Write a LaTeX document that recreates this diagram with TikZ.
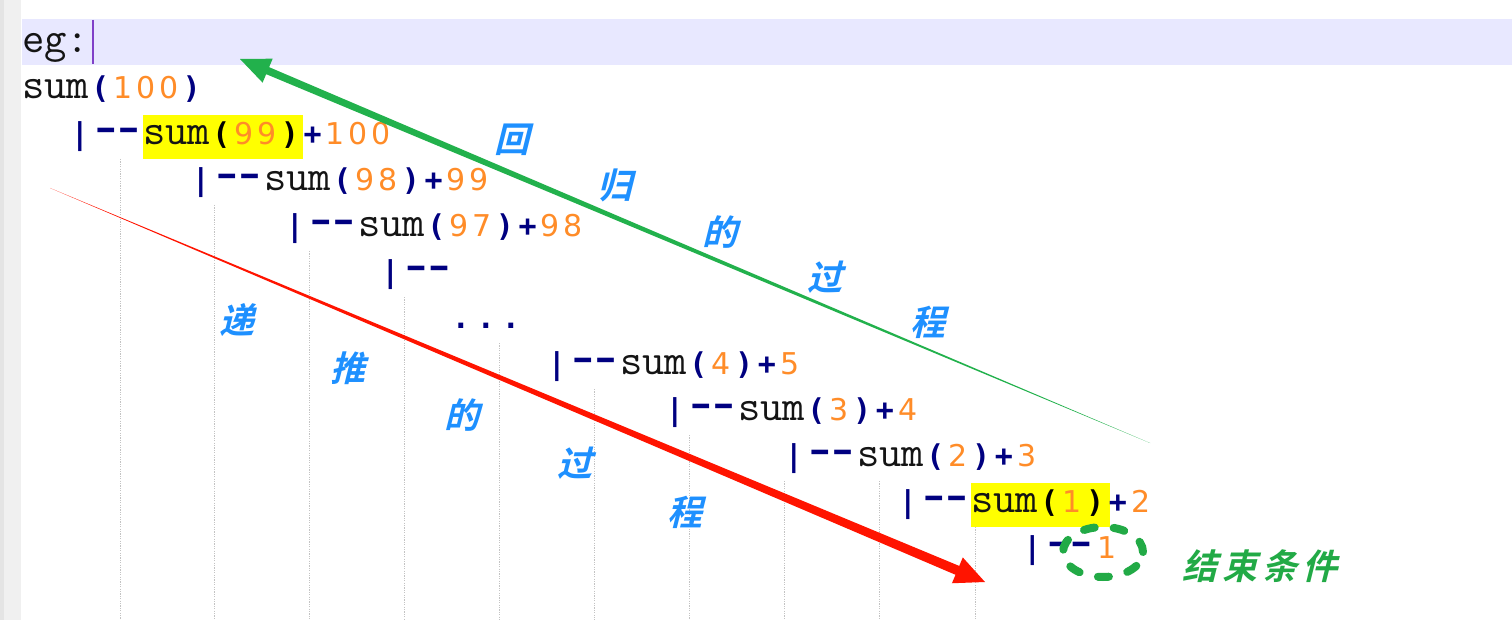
\documentclass[tikz,border=0pt]{standalone}
\usepackage{fontspec}
\usepackage{graphicx}
\usetikzlibrary{calc,shapes.geometric}
\newfontfamily\opf{DejaVu Sans Mono}[UprightFont={* Bold}]
\newfontfamily\numf{DejaVu Sans}
\newfontfamily\cjkf{Noto Sans CJK SC}[UprightFont={* Bold},FakeSlant=0.25]
\definecolor{navy}{RGB}{0,0,128}
\definecolor{numc}{RGB}{255,140,40}
\definecolor{txtc}{RGB}{20,20,20}
\definecolor{bandc}{RGB}{232,232,255}
\definecolor{hly}{RGB}{255,255,0}
\definecolor{arrgreen}{RGB}{34,177,76}
\definecolor{arrred}{RGB}{255,20,0}
\definecolor{cjkblue}{RGB}{30,144,255}
\definecolor{endgreen}{RGB}{34,170,70}
\definecolor{cursorc}{RGB}{128,64,200}
\definecolor{gutterc}{RGB}{240,240,240}
\definecolor{gutterd}{RGB}{228,228,228}
\definecolor{guidec}{RGB}{195,195,195}
\newlength\cw \setlength\cw{22.8pt}
\newcommand\opsz{\fontsize{30}{32}\selectfont}
\newcommand\ttsz{\fontsize{43.4}{45}\selectfont}
\newcommand\tx[1]{{\ttfamily\ttsz\color{txtc}#1}}
\newcommand\op[1]{\makebox[\cw]{\opf\opsz\color{navy}#1}}
\newcommand\opk[1]{\makebox[\cw]{\opf\opsz\color{black}#1}}
\newcommand\pp{\makebox[\cw]{\hspace{-12pt}\opf\opsz\color{navy}|}}
\newcommand\dd{\makebox[\cw]{\hspace{-6pt}\makebox[0pt]{\opf\opsz\color{navy}\raisebox{5pt}{\scalebox{1.8}[1.05]{-}}}}}
\newcommand\nm[1]{\makebox[\cw]{\numf\opsz\color{numc}#1}}
\def\nms#1{\nmsloop#1\relax}
\def\nmsloop#1{\ifx\relax#1\else\nm{#1}\expandafter\nmsloop\fi}
\newcommand\callrow[2]{\pp\dd\dd\tx{sum}\op{(}\nms{#1}\op{)}\op{+}\nms{#2}}
\newcommand\hlrow[2]{\pp\dd\dd\tx{sum}\opk{(}\nms{#1}\opk{)}\op{+}\nms{#2}}
\newcommand\dotc{\makebox[25pt]{\opf\opsz\color{navy}.}}
\tikzset{
  codeline/.style={anchor=base west, inner sep=0pt, outer sep=0pt},
  guide/.style={guidec, line width=0.8pt, dash pattern=on 1.2pt off 1.2pt},
  hlbox/.style={fill=hly, draw=none},
  cjkword/.style={text=cjkblue, font=\cjkf\fontsize{35}{37}\selectfont, inner sep=0pt},
}
\begin{document}
\begin{tikzpicture}[x=1pt,y=-1pt]
\useasboundingbox (0,0) rectangle (1512,620);
\fill[white] (0,0) rectangle (1512,620);
% gutter
\fill[gutterc] (0,0) rectangle (21,620);
\fill[gutterd] (0,0) rectangle (4,620);
% current line band
\fill[bandc] (22,19) rectangle (1512,65);
\draw[cursorc, line width=1.3pt] (93,20) -- (93,64);
% indentation guides
\foreach \gx/\gy in {120/159,214/205,309/251,404/297,499/343,594/389,689/435,784/481,879/481,975/527}
  \draw[guide] (\gx,\gy) -- (\gx,620);
% highlights
\fill[hlbox] (143,115) rectangle (302.6,159);
\fill[hlbox] (971,483) rectangle (1110,527);
% code lines
\node[codeline] (r1) at (22,52.5) {\tx{eg:}};
\node[codeline] (r2) at (22,98.5) {\tx{sum}\op{(}\nms{100}\op{)}};
\node[codeline] (r3) at (74.6,144.5) {\hlrow{99}{100}};
\node[codeline] (r4) at (195.6,190.5) {\callrow{98}{99}};
\node[codeline] (r5) at (289.6,236.5) {\callrow{97}{98}};
\node[codeline] (r6) at (385,282.5) {\pp\dd\dd};
\node[codeline] (r7) at (448.5,328.5) {\dotc\dotc\dotc};
\node[codeline] (r8) at (551.6,374.5) {\callrow{4}{5}};
\node[codeline] (r9) at (669.6,420.5) {\callrow{3}{4}};
\node[codeline] (r10) at (788.6,466.5) {\callrow{2}{3}};
\node[codeline] (r11) at (902.6,512.5) {\hlrow{1}{2}};
\node[codeline] (r12) at (1027,558.5) {\pp\dd\dd\nm{1}};
% green (return) arrow
\coordinate (gT) at (240,59);
\coordinate (gS) at (1150,443);
\coordinate (gB) at ($(gT)!30pt!(gS)$);
\fill[arrgreen] (gS) -- ($(gB)!3.8pt!90:(gT)$) -- ($(gB)!13pt!90:(gT)$) -- (gT)
  -- ($(gB)!13pt!-90:(gT)$) -- ($(gB)!3.8pt!-90:(gT)$) -- cycle;
% red (recursion) arrow
\coordinate (rT) at (985,582);
\coordinate (rS) at (50,188);
\coordinate (rB) at ($(rT)!30pt!(rS)$);
\fill[arrred] (rS) -- ($(rB)!4.8pt!90:(rT)$) -- ($(rB)!14pt!90:(rT)$) -- (rT)
  -- ($(rB)!14pt!-90:(rT)$) -- ($(rB)!4.8pt!-90:(rT)$) -- cycle;
% labels along green arrow
\node[cjkword] (h1) at (512,140) {回};
\node[cjkword] (h2) at (615,185) {归};
\node[cjkword] (h3) at (720,232) {的};
\node[cjkword] (h4) at (825,277) {过};
\node[cjkword] (h5) at (928,322) {程};
% labels along red arrow
\node[cjkword] (d1) at (237,320) {递};
\node[cjkword] (d2) at (348,368) {推};
\node[cjkword] (d3) at (462,415) {的};
\node[cjkword] (d4) at (575,463) {过};
\node[cjkword] (d5) at (685,512) {程};
% end condition
\node[draw=endgreen, ellipse, line width=8pt, dash pattern=on 11pt off 19pt, line cap=round,
  minimum width=80pt, minimum height=50pt, inner sep=0pt] (ring) at (1103,552) {};
\node[text=endgreen, font=\cjkf\fontsize{35}{37}\selectfont, inner sep=0pt] (endc) at (1260,566)
  {结\hspace{5pt}束\hspace{5pt}条\hspace{5pt}件};
\end{tikzpicture}
\end{document}
